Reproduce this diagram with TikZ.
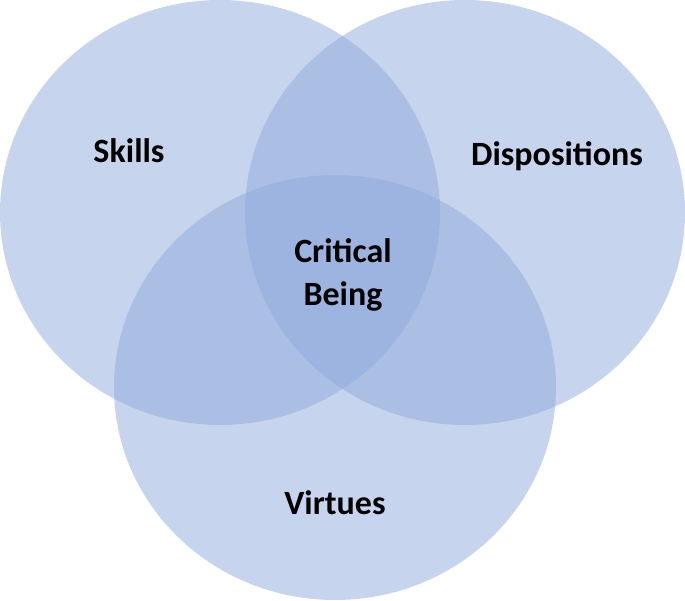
\documentclass[tikz,border=0pt]{standalone}
\usepackage{fontspec}
\setmainfont{Carlito}
\definecolor{vennblue}{RGB}{143,170,220}

\begin{document}
\begin{tikzpicture}[
    x=1pt, y=1pt,
    venn/.style={fill=vennblue, fill opacity=0.5},
    setname/.style={font=\fontsize{34}{43}\selectfont\bfseries, align=center, text=black}
  ]
    \useasboundingbox (0,0) rectangle (685,600);
    % the three sets
    \fill[venn] (220,387.5) ellipse [x radius=220pt, y radius=212.5pt];
    \fill[venn] (465,387.5) ellipse [x radius=220pt, y radius=212.5pt];
    \fill[venn] (335,212.5) ellipse [x radius=221pt, y radius=212.5pt];
    \node[setname] (skills) at (129,449) {Skills};
    \node[setname] (dispositions) at (557,444) {Dispositions};
    \node[setname] (critical) at (343,325) {Critical\\Being};
    \node[setname] (virtues) at (335,97) {Virtues};
  \end{tikzpicture}
\end{document}
